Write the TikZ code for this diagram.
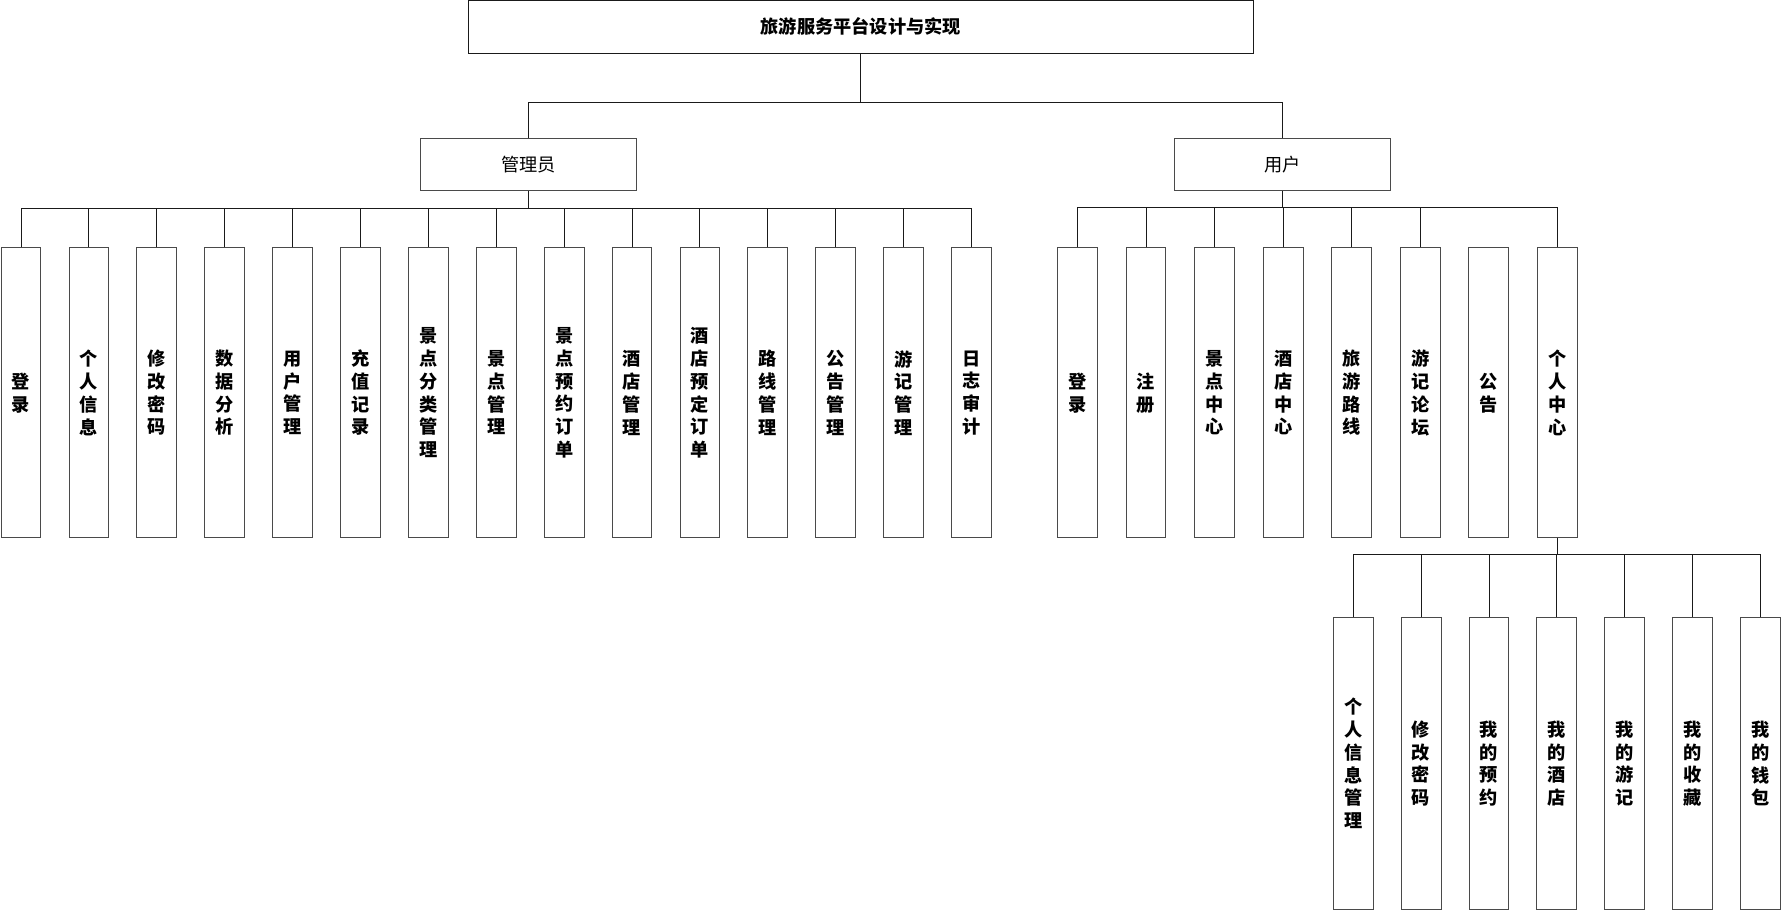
\documentclass[tikz,border=0pt]{standalone}
\usepackage{fontspec}
\newfontfamily\cjk{Noto Sans CJK SC}
\usetikzlibrary{positioning}
\definecolor{Ink}{HTML}{1A1A1A}
\definecolor{Frame}{HTML}{4A4A4A}
\tikzset{
  headbox/.style={
    draw=Ink, line width=0.8pt, fill=white,
    minimum width=690pt, minimum height=47pt,
    font=\cjk\bfseries\fontsize{16pt}{20pt}\selectfont
  },
  rolebox/.style={
    draw=Frame, line width=0.8pt, fill=white,
    minimum width=190pt, minimum height=46pt,
    font=\cjk\fontsize{16pt}{20pt}\selectfont
  },
  leafbox/.style={
    draw=Frame, line width=0.8pt, fill=white, inner sep=0pt,
    minimum width=35pt, minimum height=255pt, align=center,
    font=\cjk\bfseries\fontsize{16pt}{20pt}\selectfont
  },
  subbox/.style={leafbox, minimum height=257pt},
  link/.style={draw=Ink, line width=0.8pt}
}

\begin{document}
\begin{tikzpicture}[node distance=23.9pt]
    \useasboundingbox (0,0) rectangle (1568pt,-800pt);
    % top levels
    \node[headbox] (sys) at (757pt,-23.5pt) {旅游服务平台设计与实现};
    \node[rolebox] (adm) at (465pt,-144.5pt) {管理员};
    \node[rolebox] (usr) at (1128pt,-144.5pt) {用户};
    % admin functions
    \node[leafbox] (a1) at (18.5pt,-345.5pt) {登\\录};
    \node[leafbox,right=of a1] (a2) {个\\人\\信\\息};
    \node[leafbox,right=of a2] (a3) {修\\改\\密\\码};
    \node[leafbox,right=of a3] (a4) {数\\据\\分\\析};
    \node[leafbox,right=of a4] (a5) {用\\户\\管\\理};
    \node[leafbox,right=of a5] (a6) {充\\值\\记\\录};
    \node[leafbox,right=of a6] (a7) {景\\点\\分\\类\\管\\理};
    \node[leafbox,right=of a7] (a8) {景\\点\\管\\理};
    \node[leafbox,right=of a8] (a9) {景\\点\\预\\约\\订\\单};
    \node[leafbox,right=of a9] (a10) {酒\\店\\管\\理};
    \node[leafbox,right=of a10] (a11) {酒\\店\\预\\定\\订\\单};
    \node[leafbox,right=of a11] (a12) {路\\线\\管\\理};
    \node[leafbox,right=of a12] (a13) {公\\告\\管\\理};
    \node[leafbox,right=of a13] (a14) {游\\记\\管\\理};
    \node[leafbox,right=of a14] (a15) {日\\志\\审\\计};
    % user functions
    \begin{scope}[node distance=24.5pt]
    \node[leafbox] (u1) at (947.5pt,-345.5pt) {登\\录};
    \node[leafbox,right=of u1] (u2) {注\\册};
    \node[leafbox,right=of u2] (u3) {景\\点\\中\\心};
    \node[leafbox,right=of u3] (u4) {酒\\店\\中\\心};
    \node[leafbox,right=of u4] (u5) {旅\\游\\路\\线};
    \node[leafbox,right=of u5] (u6) {游\\记\\论\\坛};
    \node[leafbox,right=of u6] (u7) {公\\告};
    \node[leafbox,right=of u7] (u8) {个\\人\\中\\心};
    \end{scope}
    % personal centre
    \node[subbox] (p1) at (1190pt,-671.5pt) {个\\人\\信\\息\\管\\理};
    \node[subbox,right=of p1] (p2) {修\\改\\密\\码};
    \node[subbox,right=of p2] (p3) {我\\的\\预\\约};
    \node[subbox,right=of p3] (p4) {我\\的\\酒\\店};
    \node[subbox,right=of p4] (p5) {我\\的\\游\\记};
    \node[subbox,right=of p5] (p6) {我\\的\\收\\藏};
    \node[subbox,right=of p6] (p7) {我\\的\\钱\\包};
    % connectors
    \draw[link] (sys.south) -- ++(0,-43pt) coordinate (sbus);
    \draw[link] (adm.north) |- (sbus) -| (usr.north);
    \draw[link] (adm.south) -- ++(0,-15.5pt) coordinate (abus);
    \draw[link] (a1.north) |- (abus) -| (a15.north);
    \foreach \n in {2,...,14}
      \draw[link] (a\n.north) -- (a\n.north |- abus);
    \draw[link] (usr.south) -- ++(0,-14.5pt) coordinate (ubus);
    \draw[link] (u1.north) |- (ubus) -| (u8.north);
    \foreach \n in {2,...,6}
      \draw[link] (u\n.north) -- (u\n.north |- ubus);
    \draw[link] (u8.south) -- ++(0,-14pt) coordinate (pbus);
    \draw[link] (p1.north) |- (pbus) -| (p7.north);
    \foreach \n in {2,...,6}
      \draw[link] (p\n.north) -- (p\n.north |- pbus);
  \end{tikzpicture}
\end{document}
